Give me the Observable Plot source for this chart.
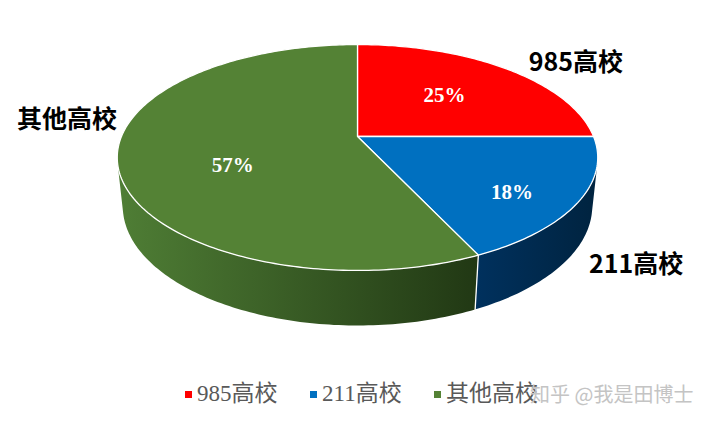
<!DOCTYPE html>
<html><head><meta charset="utf-8">
<script src="https://cdn.jsdelivr.net/npm/d3@7"></script>
<script src="https://cdn.jsdelivr.net/npm/@observablehq/plot@0.6"></script>
<style>
body{margin:0;background:#fff;width:718px;height:424px;overflow:hidden;position:relative;font-family:"Noto Sans CJK SC",sans-serif}
#chart svg{display:block}
#legend{position:relative;height:49px}
.item{position:absolute;top:5px;display:flex;align-items:center;font-family:"Liberation Serif","Noto Sans CJK SC",serif;font-size:23px;line-height:28px;color:#595959;white-space:nowrap}
.sw{width:7px;height:7px;margin-right:5px}
#wm{position:absolute;left:530px;top:380px;font-size:20px;line-height:28px;color:#c4c4c4;font-family:"Noto Sans CJK SC",sans-serif;white-space:nowrap}
</style></head><body>
<div id="chart"></div>
<div id="legend"></div>
<div id="wm">知乎 @我是田博士</div>
<script>
// ---- data ----
const categories = ["985高校", "211高校", "其他高校"];
const shares = [25, 18, 57];
const percentLabels = ["25%", "18%", "57%"];

// ---- style / layout ----
const topColors = ["#ff0000", "#0070c0", "#548235"];
const sideStops = [["#c00000", "#900000"], ["#00315e", "#00233f"], ["#4f7e35", "#213814"]];
const pctLabelStyle = [{k: 0.56, dx: 0, dy: -1}, {k: 0.72, dx: 0, dy: 10}, {k: 0.6, dx: 17, dy: 14}];
const catLabelStyle = [{k: 1.3, dx: 33, dy: 12}, {k: 1.25, dx: -6, dy: 45}, {k: 1.2, dx: 0, dy: -47}];
const legendLeft = [185, 310, 434];
const W = 718, HSVG = 375, CX = 357, CY = 136;

// perspective projection of a tilted disk (unit radius)
const sinP = 0.462, cosP = Math.sqrt(1 - sinP * sinP), D = 4.77, F = 1126, TH = 0.2345;
function proj(deg, r, y) {
  const t = deg * Math.PI / 180;
  const x3 = r * Math.sin(t), z3 = r * Math.cos(t);
  const d = D + z3 * cosP - y * sinP;
  return {x: F * x3 / d, y: F * (y * cosP + z3 * sinP) / d};
}
function arc(a0, a1, y) {
  const pts = [];
  for (let a = a0; a < a1; a += 1) pts.push(proj(a, 1, y));
  pts.push(proj(a1, 1, y));
  return pts;
}

// slice angles from shares
const total = d3.sum(shares);
const angles = [];
{ let acc = 0; for (const s of shares) { angles.push([acc / total * 360, (acc + s) / total * 360]); acc += s; } }
const thetaS = Math.acos(-1 / (D * cosP)) * 180 / Math.PI;

const marks = [];
// side walls
angles.forEach(([a0, a1], i) => {
  const lo = Math.max(a0, thetaS), hi = Math.min(a1, 360 - thetaS);
  if (lo < hi) {
    const pts = [...arc(lo, hi, 0), ...arc(lo, hi, -TH).reverse()];
    marks.push(Plot.line(pts, {x: "x", y: "y", fill: `url(#side${i})`, stroke: "none", curve: "linear-closed"}));
  }
});
// white edges between side walls
angles.forEach(([a0]) => {
  if (a0 > thetaS && a0 < 360 - thetaS) {
    marks.push(Plot.line([proj(a0, 1, 0), proj(a0, 1, -TH)], {x: "x", y: "y", stroke: "white", strokeWidth: 1.3}));
  }
});
// top faces
angles.forEach(([a0, a1], i) => {
  const pts = [proj(0, 0, 0), ...arc(a0, a1, 0)];
  marks.push(Plot.line(pts, {x: "x", y: "y", fill: topColors[i], stroke: "white", strokeWidth: 1.3, strokeLinejoin: "round", curve: "linear-closed"}));
});
// labels
const pctData = angles.map(([a0, a1], i) => {
  const s = pctLabelStyle[i], p = proj((a0 + a1) / 2, s.k, 0);
  return {x: p.x + s.dx, y: p.y - s.dy, text: percentLabels[i]};
});
const catData = angles.map(([a0, a1], i) => {
  const s = catLabelStyle[i], p = proj((a0 + a1) / 2, s.k, 0);
  return {x: p.x + s.dx, y: p.y - s.dy, text: categories[i]};
});
marks.push(Plot.text(pctData, {x: "x", y: "y", text: "text", fill: "white", fontSize: 21, fontWeight: "bold", fontFamily: "Liberation Serif"}));
marks.push(Plot.text(catData, {x: "x", y: "y", text: "text", fill: "black", fontSize: 25, fontWeight: "bold", fontFamily: "Noto Sans CJK SC"}));

const svg = Plot.plot({
  width: W, height: HSVG,
  margin: 0,
  x: {domain: [-CX, W - CX], axis: null},
  y: {domain: [CY - HSVG, CY], axis: null},
  style: {background: "white", overflow: "visible"},
  marks
});
const defs = d3.select(svg).insert("defs", ":first-child");
sideStops.forEach(([c0, c1], i) => {
  const g = defs.append("linearGradient").attr("id", `side${i}`).attr("x1", 0).attr("x2", 1).attr("y1", 0).attr("y2", 0);
  g.append("stop").attr("offset", 0).attr("stop-color", c0);
  g.append("stop").attr("offset", 1).attr("stop-color", c1);
});
document.getElementById("chart").appendChild(svg);

const legend = document.getElementById("legend");
categories.forEach((c, i) => {
  const it = document.createElement("div");
  it.className = "item";
  it.style.left = legendLeft[i] + "px";
  it.innerHTML = `<span class="sw" style="background:${topColors[i]}"></span><span>${c}</span>`;
  legend.appendChild(it);
});
</script>
</body></html>
